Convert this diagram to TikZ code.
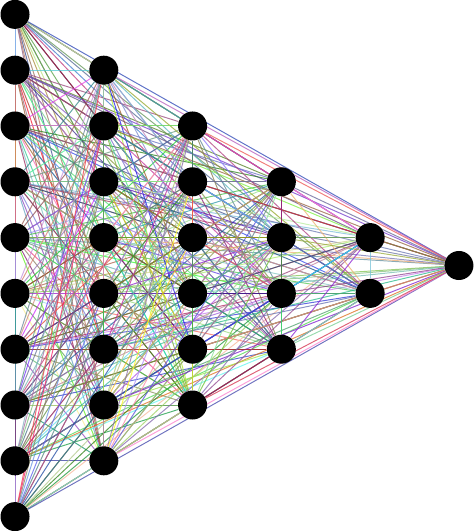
\documentclass[tikz,border=0pt]{standalone}
\usepackage{tikz}
\usepackage{xcolor}
\pgfdeclarelayer{wires}
\pgfsetlayers{wires,main}
\tikzset{neuron/.style={circle,fill=black,inner sep=0pt,minimum size=0.52cm}}

\begin{document}
\begin{tikzpicture}
	\useasboundingbox (0,-4.758) rectangle (8.495,4.758);
	\foreach \i/\n in {0/10,1/8,2/6,3/4,4/2,5/1}
	\foreach \j in {1,...,\n}
	\node [neuron] (n\i-\j) at ({0.269+1.591*\i},{(\n+1)/2-\j}) {};
	\pgfmathsetseed{11}
	\begin{pgfonlayer}{wires}
	\foreach \a/\na in {0/10,1/8,2/6,3/4,4/2,5/1}
	\foreach \p in {1,...,\na}
	\foreach \b/\nb in {0/10,1/8,2/6,3/4,4/2,5/1}
	\foreach \q in {1,...,\nb} {
		\pgfmathtruncatemacro\ok{(\b>\a)||((\b==\a)&&(\q>\p))}
		\ifnum\ok=1
			\pgfmathsetmacro\colH{rnd}
			\pgfmathsetmacro\colS{0.3+0.6*rnd}
			\pgfmathsetmacro\colB{0.5+0.5*rnd}
			\definecolor{wire}{hsb}{\colH,\colS,\colB}
			\draw [wire,line width=0.5pt,opacity=0.75] (n\a-\p) -- (n\b-\q);
		\fi
	}
	\end{pgfonlayer}
\end{tikzpicture}
\end{document}
